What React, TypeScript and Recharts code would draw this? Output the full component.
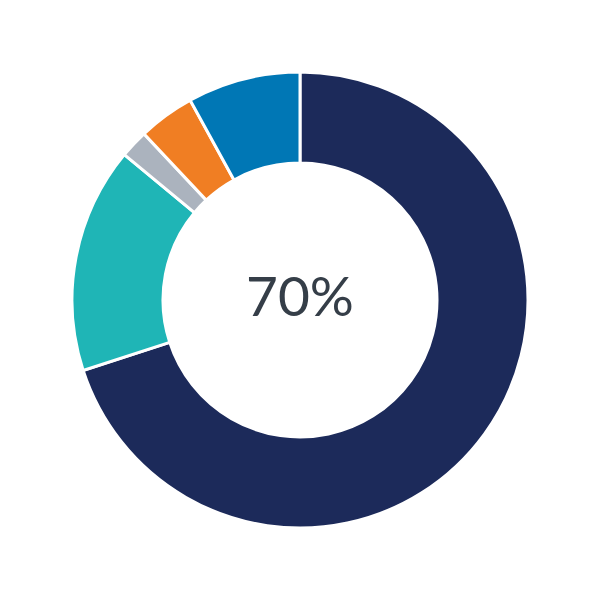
import { PieChart, Pie, Cell, Label } from 'recharts';

const segments = ['Primary', 'Teal', 'Gray', 'Orange', 'Blue'];
const shares = [70, 16, 2, 4, 8];
const colors = ['#1c2a5a', '#1fb5b6', '#abb3be', '#f07e23', '#0077b5'];
const centerLabel = '70%';

const data = segments.map((name, i) => ({ name, value: shares[i] }));

export default function App() {
  return (
    <div style={{ position: 'absolute', left: 0, top: 0, width: 600, height: 600, background: '#fff' }}>
      <PieChart width={600} height={600} margin={{ top: 0, right: 0, bottom: 0, left: 0 }}>
        <Pie
          data={data}
          dataKey="value"
          cx={300}
          cy={300}
          innerRadius={137}
          outerRadius={228}
          startAngle={90}
          endAngle={-270}
          stroke="#ffffff"
          strokeWidth={3}
          isAnimationActive={false}
        >
          {data.map((entry, index) => (
            <Cell key={`cell-${index}`} fill={colors[index]} />
          ))}
          <Label
            value={centerLabel}
            position="center"
            dy={-4}
            fill="#353e48"
            style={{ fontFamily: 'Lato', fontSize: 55, fontWeight: 400 }}
          />
        </Pie>
      </PieChart>
    </div>
  );
}
